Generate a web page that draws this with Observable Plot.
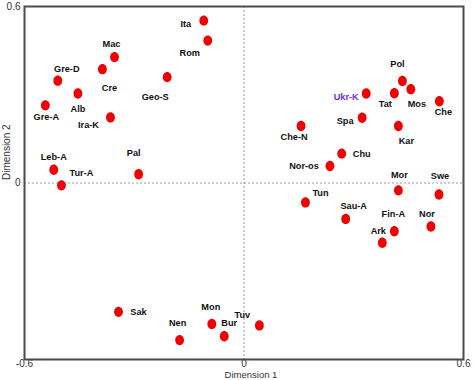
<!DOCTYPE html>
<html>
<head>
<meta charset="utf-8">
<script src="https://cdn.jsdelivr.net/npm/d3@7"></script>
<script src="https://cdn.jsdelivr.net/npm/@observablehq/plot@0.6"></script>
<style>
  html, body { margin: 0; padding: 0; background: #fff; }
  #chart svg { display: block; overflow: visible; }
</style>
</head>
<body>
<div id="chart"></div>
<script>
// ---- data ----
const populations = ["Ita","Rom","Mac","Cre","Gre-D","Alb","Gre-A","Geo-S","Ira-K","Leb-A","Tur-A","Pal",
  "Pol","Mos","Tat","Ukr-K","Che","Spa","Kar","Che-N","Chu","Nor-os","Mor","Swe",
  "Tun","Sau-A","Fin-A","Nor","Ark","Tuv","Sak","Mon","Bur","Nen"];
const dim1 = [-0.110,-0.099,-0.354,-0.387,-0.509,-0.454,-0.543,-0.210,-0.365,-0.520,-0.499,-0.288,
  0.433,0.456,0.411,0.334,0.534,0.323,0.422,0.156,0.267,0.235,0.422,0.533,
  0.168,0.278,0.411,0.511,0.378,0.042,-0.343,-0.088,-0.054,-0.176];
const dim2 = [0.552,0.484,0.428,0.387,0.348,0.304,0.264,0.360,0.223,0.045,-0.008,0.030,
  0.347,0.319,0.305,0.304,0.278,0.222,0.194,0.194,0.100,0.058,-0.025,-0.039,
  -0.066,-0.122,-0.164,-0.148,-0.203,-0.484,-0.438,-0.479,-0.521,-0.534];
const xTicks = [-0.6, 0, 0.6];
const yTicks = [0, 0.6];
const highlighted = ["Ukr-K"];

// ---- label placement (pixel offsets from each point) ----
const labelOffsets = {
  "Ita":[-18,3],"Rom":[-18,12],"Mac":[-3,-13],"Cre":[7,19],"Gre-D":[9,-12],"Alb":[0,15],
  "Gre-A":[1,12],"Geo-S":[-12,20],"Ira-K":[-22,8],"Leb-A":[0,-13],"Tur-A":[20,-12],"Pal":[-5,-21],
  "Pol":[-5,-17],"Mos":[6,15],"Tat":[-9,11],"Ukr-K":[-20,3],"Che":[4,11],"Spa":[-17,3],
  "Kar":[8,15],"Che-N":[-7,11],"Chu":[20,0],"Nor-os":[-26,0],"Mor":[1,-15],"Swe":[1,-18],
  "Tun":[15,-9],"Sau-A":[8,-13],"Fin-A":[-1,-17],"Nor":[-4,-12],"Ark":[-4,-12],"Tuv":[-17,-10],
  "Sak":[20,0],"Mon":[-1,-17],"Bur":[5,-13],"Nen":[-2,-17]
};

const data = populations.map((name, i) => ({name, x: dim1[i], y: dim2[i]}));

// ellipse symbol (slightly taller than wide)
const ellipse = {
  draw(context, size) {
    const r = Math.sqrt(size / Math.PI);
    const rx = r * 0.85, ry = r, k = 0.5523;
    context.moveTo(rx, 0);
    context.bezierCurveTo(rx, ry * k, rx * k, ry, 0, ry);
    context.bezierCurveTo(-rx * k, ry, -rx, ry * k, -rx, 0);
    context.bezierCurveTo(-rx, -ry * k, -rx * k, -ry, 0, -ry);
    context.bezierCurveTo(rx * k, -ry, rx, -ry * k, rx, 0);
    context.closePath();
  }
};

const font = "'Liberation Sans', Arial, sans-serif";

const labelMarks = data.map(d => Plot.text([d], {
  x: "x", y: "y", text: "name",
  dx: labelOffsets[d.name][0], dy: labelOffsets[d.name][1],
  fill: highlighted.includes(d.name) ? "#7030D0" : "#111",
  fontWeight: "bold", fontSize: 9.2
}));

const chart = Plot.plot({
  width: 474,
  height: 380,
  marginLeft: 24,
  marginRight: 11,
  marginTop: 6,
  marginBottom: 21,
  style: {fontFamily: font, fontSize: "10px", color: "#333", background: "#fff"},
  x: {domain: [-0.6, 0.6], ticks: xTicks, tickSize: 0, tickPadding: 0, tickFormat: d => String(d), label: null},
  y: {domain: [-0.6, 0.6], ticks: yTicks, tickSize: 0, tickPadding: 4, tickFormat: d => String(d), label: null},
  marks: [
    Plot.ruleX([0], {stroke: "#999", strokeDasharray: "2,2", strokeWidth: 1}),
    Plot.ruleY([0], {stroke: "#999", strokeDasharray: "2,2", strokeWidth: 1}),
    Plot.frame({stroke: "#4a4a4a", strokeWidth: 2}),
    Plot.dot(data, {x: "x", y: "y", r: 5.2, symbol: ellipse, fill: "#f00000", stroke: "none"}),
    ...labelMarks,
    Plot.text(["Dimension 1"], {frameAnchor: "bottom", dx: 7, dy: 18, fill: "#333", fontSize: 9.5}),
    Plot.text(["Dimension 2"], {frameAnchor: "left", dx: -18, dy: -3, rotate: -90, fill: "#333", fontSize: 10})
  ]
});

document.getElementById("chart").appendChild(chart);
</script>
</body>
</html>
